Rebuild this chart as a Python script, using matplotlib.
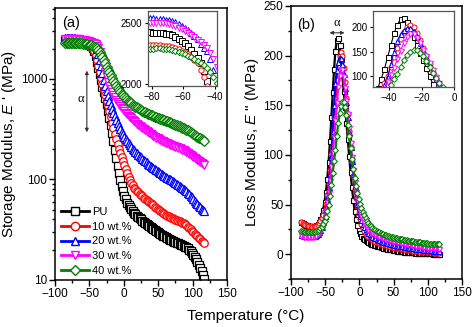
import numpy as np
import matplotlib
matplotlib.use("Agg")
import matplotlib.pyplot as plt
from matplotlib import ticker
from matplotlib.lines import Line2D

plt.rcParams['font.family'] = ['Liberation Sans', 'DejaVu Sans']
plt.rcParams['mathtext.fontset'] = 'custom'
plt.rcParams['mathtext.rm'] = 'Liberation Sans'
plt.rcParams['mathtext.it'] = 'Liberation Sans:italic'

# measurement temperatures (°C), 2 °C steps
temperature = np.arange(-85, 118, 2)

series_names = ["PU", "10 wt.%", "20 wt.%", "30 wt.%", "40 wt.%"]
colors = ["black", "#ff0000", "#0000ff", "#ff00ff", "#008000"]
markers = ["s", "o", "^", "v", "D"]

# storage modulus E' (MPa)
storage_pu = [
    2430, 2428, 2425, 2423, 2421, 2419, 2417, 2415, 2410, 2400,
    2388, 2372, 2355, 2335, 2310, 2280, 2250, 2215, 2170, 2110,
    2030, 1900, 1700, 1480, 1280, 1110, 970, 840, 735, 645,
    560, 480, 410, 345, 288, 240, 198, 165, 137, 116,
    99, 87, 77, 69, 63.5, 59, 56, 53, 50.5, 48.5,
    46.5, 45, 43.5, 42, 41, 40, 39, 38, 37, 36,
    35.2, 34.4, 33.6, 32.8, 32, 31.3, 30.6, 30, 29.4, 28.8,
    28.2, 27.6, 27.1, 26.6, 26.1, 25.6, 25.2, 24.8, 24.4, 24,
    23.7, 23.4, 23.1, 22.8, 22.5, 22.2, 21.9, 21.5, 21.1, 20.6,
    20, 19.3, 18.5, 17.7, 16.9, 16.1, 15.2, 14.2, 13.2, 12.2,
    11.2, 10.3]
storage_10 = [
    2320, 2320, 2320, 2320, 2320, 2319, 2317, 2314, 2310, 2304,
    2296, 2287, 2276, 2263, 2246, 2226, 2202, 2175, 2120, 2060,
    1985, 1880, 1720, 1530, 1340, 1170, 1020, 890, 780, 690,
    610, 540, 475, 415, 365, 322, 285, 253, 226, 203,
    183, 166, 151, 138, 126, 116, 107, 99.5, 93, 87.5,
    83, 80, 77.5, 75, 72.5, 70, 68, 66, 64.2, 62.5,
    61, 59.5, 58, 56.6, 55.2, 53.8, 52.5, 51.2, 50, 48.8,
    47.7, 46.6, 45.6, 44.7, 43.8, 43, 42.3, 41.6, 41, 40.4,
    39.9, 39.4, 38.9, 38.4, 37.9, 37.3, 36.6, 35.8, 34.9, 33.9,
    32.9, 31.9, 30.9, 29.9, 28.9, 28, 27.1, 26.3, 25.5, 24.7,
    24, 23.4]
storage_20 = [
    2545, 2545, 2542, 2540, 2538, 2536, 2533, 2530, 2524, 2516,
    2506, 2494, 2479, 2462, 2443, 2421, 2397, 2367, 2333, 2300,
    2270, 2210, 2120, 1980, 1780, 1560, 1340, 1140, 970, 860,
    760, 680, 610, 555, 505, 462, 425, 393, 365, 340,
    318, 298, 281, 266, 252, 240, 229, 219, 210, 202,
    195, 188, 182, 176, 170.5, 165.5, 161, 156.5, 152, 148,
    144, 140.5, 137, 133.5, 130, 127, 124, 121, 118, 115.5,
    113, 110.5, 108, 106, 104, 102, 100, 98, 96, 94,
    92, 90, 88, 86, 84, 82, 80, 78, 76, 74,
    71.5, 69, 66.5, 64, 61.5, 59, 57, 55, 53, 51.3,
    49.8, 48.5]
storage_30 = [
    2495, 2498, 2500, 2502, 2504, 2505, 2503, 2500, 2494, 2485,
    2475, 2464, 2451, 2437, 2421, 2404, 2386, 2366, 2344, 2320,
    2295, 2255, 2210, 2140, 2030, 1870, 1680, 1490, 1320, 1170,
    1040, 940, 860, 795, 740, 695, 655, 620, 590, 563,
    540, 518, 498, 480, 463, 447, 432, 418, 405, 393,
    381, 370, 360, 350, 341, 332, 324, 316, 309, 302,
    295, 289, 283, 277, 271, 266, 261, 256, 251, 247,
    243, 239, 235, 231, 228, 225, 222, 219, 216.5, 214,
    211.5, 209, 206.5, 204, 201, 198, 195, 191.5, 188, 184,
    180, 176, 172, 168, 164, 160, 156, 152.5, 149, 145.5,
    142, 139]
storage_40 = [
    2288, 2290, 2291, 2292, 2293, 2293, 2292, 2290, 2286, 2280,
    2273, 2265, 2255, 2244, 2232, 2219, 2205, 2190, 2173, 2154,
    2130, 2100, 2062, 2010, 1940, 1850, 1750, 1640, 1530, 1425,
    1330, 1240, 1160, 1085, 1020, 960, 905, 858, 815, 778,
    745, 715, 688, 664, 642, 622, 604, 587, 571, 557,
    544, 532, 521, 510, 500, 491, 482, 474, 466, 459,
    452, 445, 439, 433, 427, 421, 416, 411, 406, 401,
    396, 391.5, 387, 382.5, 378, 373.5, 369, 364.5, 360, 355.5,
    351, 346.5, 342, 337.5, 333, 328, 323, 318, 313, 308,
    302, 296, 290, 284, 278, 272, 266, 261, 256, 251,
    247, 243]

# loss modulus E'' (MPa)
loss_pu = [
    32, 31, 30.2, 29.5, 29, 28.6, 28.3, 28.1, 28, 28.1,
    28.5, 29.3, 30.6, 32.6, 35.5, 39.5, 45, 52.5, 62.5, 76,
    93, 114, 138, 163, 187, 205, 216, 218, 211, 197,
    180, 164, 148, 132, 116, 99, 83, 68, 55, 44,
    35.5, 29, 24, 21, 18.5, 16.5, 15, 13.8, 12.8, 12,
    11.3, 10.7, 10.1, 9.6, 9.1, 8.7, 8.3, 7.9, 7.5, 7.1,
    6.7, 6.3, 6.0, 5.7, 5.4, 5.1, 4.8, 4.5, 4.2, 4.0,
    3.7, 3.5, 3.3, 3.1, 2.9, 2.7, 2.5, 2.3, 2.2, 2.0,
    1.9, 1.8, 1.7, 1.6, 1.5, 1.4, 1.3, 1.2, 1.1, 1.0,
    0.95, 0.9, 0.85, 0.8, 0.75, 0.7, 0.65, 0.6, 0.55, 0.5,
    0.5, 0.45]
loss_10 = [
    32.5, 31.5, 30.5, 29.8, 29.2, 28.7, 28.3, 28, 27.8, 27.8,
    28, 28.5, 29.5, 31, 33.2, 36, 39, 44, 51, 60,
    71, 85, 101, 119, 138, 157, 175, 190, 200, 204,
    200, 188, 173, 157, 141, 124, 108, 93, 79, 66,
    57, 48.5, 41, 35, 30, 26, 23, 20.5, 18.6, 17.1,
    15.9, 14.9, 14, 13.3, 12.7, 12.2, 11.7, 11.2, 10.7, 10.2,
    9.7, 9.3, 8.9, 8.5, 8.1, 7.7, 7.3, 7.0, 6.7, 6.4,
    6.1, 5.8, 5.5, 5.2, 5.0, 4.8, 4.6, 4.4, 4.2, 4.0,
    3.8, 3.6, 3.4, 3.2, 3.0, 2.9, 2.8, 2.6, 2.5, 2.4,
    2.3, 2.2, 2.1, 2.0, 1.9, 1.8, 1.7, 1.6, 1.5, 1.45,
    1.4, 1.3]
loss_20 = [
    19.5, 19, 18.6, 18.3, 18.1, 18, 17.9, 17.9, 18, 18.2,
    18.6, 19.3, 20.4, 22, 24.3, 27.5, 32, 38, 46, 56,
    68, 82, 98, 124, 150, 172, 186, 194, 198, 198,
    192, 181, 167, 153, 138, 123, 108, 94, 81, 69,
    59, 51, 44, 38.5, 34, 30.5, 27.5, 25, 23, 21.3,
    19.9, 18.7, 17.7, 16.8, 16, 15.3, 14.7, 14.1, 13.6, 13.1,
    12.6, 12.2, 11.8, 11.4, 11, 10.6, 10.2, 9.9, 9.6, 9.3,
    9.0, 8.7, 8.4, 8.1, 7.9, 7.6, 7.4, 7.1, 6.9, 6.6,
    6.4, 6.2, 6.0, 5.8, 5.6, 5.4, 5.2, 5.0, 4.8, 4.7,
    4.5, 4.3, 4.2, 4.0, 3.9, 3.8, 3.7, 3.6, 3.5, 3.4,
    3.35, 3.3]
loss_30 = [
    18.5, 18, 17.6, 17.3, 17.1, 17, 17, 17.1, 17.3, 17.6,
    18.1, 18.8, 19.9, 21.4, 23.5, 26.5, 30.5, 36, 43, 52,
    62, 74, 88, 102, 117, 134, 152, 168, 179, 186,
    186, 178, 167, 154, 141, 127, 112, 98, 85, 73,
    63, 54.5, 47.5, 42, 37.5, 34, 31, 28.5, 26.5, 24.8,
    23.4, 22.2, 21.2, 20.3, 19.5, 18.8, 18.2, 17.6, 17.1, 16.6,
    16.1, 15.7, 15.3, 14.9, 14.5, 14.1, 13.7, 13.4, 13.1, 12.8,
    12.5, 12.2, 11.9, 11.6, 11.3, 11.0, 10.7, 10.4, 10.1, 9.8,
    9.5, 9.3, 9.0, 8.8, 8.5, 8.3, 8.0, 7.8, 7.6, 7.4,
    7.2, 7.0, 6.8, 6.6, 6.45, 6.3, 6.15, 6.0, 5.9, 5.8,
    5.7, 5.6]
loss_40 = [
    23.5, 23, 22.6, 22.3, 22.1, 22, 21.9, 21.9, 22, 22.2,
    22.5, 23, 23.7, 24.7, 26, 27.8, 30.2, 33.3, 37.5, 43,
    50, 59, 70, 82, 94, 105, 119, 132, 142, 149,
    153, 153, 148, 140, 130, 119, 107, 96, 86, 77,
    69, 62, 56, 51, 46.5, 42.5, 39, 36, 33.5, 31.3,
    29.5, 28, 26.7, 25.5, 24.5, 23.6, 22.8, 22.1, 21.4, 20.8,
    20.2, 19.7, 19.2, 18.7, 18.2, 17.8, 17.4, 17.0, 16.6, 16.3,
    16.0, 15.7, 15.4, 15.1, 14.8, 14.5, 14.2, 13.9, 13.6, 13.4,
    13.2, 13.0, 12.8, 12.6, 12.4, 12.2, 12.0, 11.8, 11.6, 11.4,
    11.2, 11.0, 10.8, 10.6, 10.5, 10.4, 10.3, 10.2, 10.1, 10.0,
    9.9, 9.8]

storage = [storage_pu, storage_10, storage_20, storage_30, storage_40]
loss = [loss_pu, loss_10, loss_20, loss_30, loss_40]

fig = plt.figure(figsize=(4.74, 3.27), dpi=100)
W, H = 474.0, 327.0


def px_axes(x0, y0, x1, y1):
    return fig.add_axes([x0 / W, 1 - y1 / H, (x1 - x0) / W, (y1 - y0) / H])


def style(ax, size=8.5, major=4, minor=2, width=1.0):
    ax.tick_params(which='both', direction='out', top=False, right=False,
                   labelsize=size, width=width, pad=1.5)
    ax.tick_params(which='major', length=major)
    ax.tick_params(which='minor', length=minor)
    for s in ax.spines.values():
        s.set_linewidth(1.1)


def mstyle(c):
    return dict(color=c, mfc='white', mec=c)


# (a) storage modulus
axa = px_axes(55, 8, 227, 280)
for vals, c, m, name in zip(storage, colors, markers, series_names):
    ms = 4.6 if m == 'D' else 5.4
    axa.plot(temperature, vals, marker=m, ms=ms, mew=0.9, lw=1.2,
             label=name, **mstyle(c))
axa.set_yscale('log')
axa.set_xlim(-100, 150)
axa.set_ylim(10, 5080)
axa.set_xticks([-100, -50, 0, 50, 100, 150])
axa.xaxis.set_minor_locator(ticker.MultipleLocator(25))
axa.set_yticks([10, 100, 1000])
axa.yaxis.set_major_formatter(ticker.FuncFormatter(lambda v, p: f"{v:g}"))
axa.yaxis.set_minor_formatter(ticker.NullFormatter())
style(axa)
axa.set_ylabel("Storage Modulus, $E$ ' (MPa)", fontsize=11, labelpad=2)
axa.text(0.04, 0.972, "(a)", transform=axa.transAxes, fontsize=10.5,
         va='top', ha='left')
axa.annotate("", xy=(-53.7, 1290), xytext=(-53.7, 277),
             arrowprops=dict(arrowstyle='<|-|>', color='#333333', lw=0.8,
                             mutation_scale=5))
axa.text(-62.4, 630, "α", fontsize=9, ha='center', va='center',
         family=['Liberation Serif', 'DejaVu Serif'])

handles = [Line2D([], [], marker=m, ms=(5 if m == 'D' else 6), mew=1.0, lw=2.0,
                  **mstyle(c)) for c, m in zip(colors, markers)]
axa.legend(handles, series_names, loc='lower left',
           bbox_to_anchor=(0.0, -0.005), frameon=False, fontsize=8,
           handlelength=2.6, handletextpad=0.2, labelspacing=0.42,
           borderpad=0.3, borderaxespad=0.2, numpoints=1)

# inset of (a)
ina = px_axes(148, 11, 217, 86)
for vals, c, m in zip(storage, colors, markers):
    ms = 3.2 if m == 'D' else 3.8
    ina.plot(temperature, vals, marker=m, ms=ms, mew=0.7, lw=0,
             **mstyle(c))
ina.set_xlim(-82.3, -38.7)
ina.set_ylim(1985, 2600)
ina.set_xticks([-80, -60, -40])
ina.set_yticks([2000, 2500])
style(ina, size=7, major=2.5, minor=1.5, width=0.8)
for s in ina.spines.values():
    s.set_linewidth(0.9)
    s.set_color('#555555')

# (b) loss modulus
axb = px_axes(291, 6, 462, 279)
for vals, c, m in zip(loss, colors, markers):
    ms = 3.0 if m == 'D' else 3.6
    axb.plot(temperature, vals, marker=m, ms=ms, mew=0.8, lw=1.6,
             **mstyle(c))
axb.set_xlim(-100, 150)
axb.set_ylim(-25, 250)
axb.set_xticks([-100, -50, 0, 50, 100, 150])
axb.set_yticks([0, 50, 100, 150, 200, 250])
axb.xaxis.set_minor_locator(ticker.MultipleLocator(25))
axb.yaxis.set_minor_locator(ticker.MultipleLocator(25))
style(axb)
axb.set_ylabel("Loss Modulus, $E$ \" (MPa)", fontsize=11, labelpad=2)
axb.text(0.035, 0.955, "(b)", transform=axb.transAxes, fontsize=10.5,
         va='top', ha='left')
axb.annotate("", xy=(-47.8, 223), xytext=(-17.7, 223),
             arrowprops=dict(arrowstyle='<|-|>', color='#333333', lw=0.8,
                             mutation_scale=5))
axb.text(-33.2, 233, "α", fontsize=9, ha='center', va='center',
         family=['Liberation Serif', 'DejaVu Serif'])

# inset of (b)
inb = px_axes(373, 11, 454, 87)
for vals, c, m in zip(loss, colors, markers):
    ms = 3.0 if m == 'D' else 3.6
    inb.plot(temperature, vals, marker=m, ms=ms, mew=0.7, lw=0.8,
             **mstyle(c))
inb.set_xlim(-50, 0)
inb.set_ylim(77.5, 233)
inb.set_xticks([-40, -20, 0])
inb.set_yticks([100, 150, 200])
style(inb, size=7, major=2.5, minor=1.5, width=0.8)
for s in inb.spines.values():
    s.set_linewidth(0.9)
    s.set_color('#555555')

fig.text(246 / W, 1 - 316 / H, "Temperature (°C)", ha='center', va='center',
         fontsize=11)

fig.savefig("out.png", dpi=100)
